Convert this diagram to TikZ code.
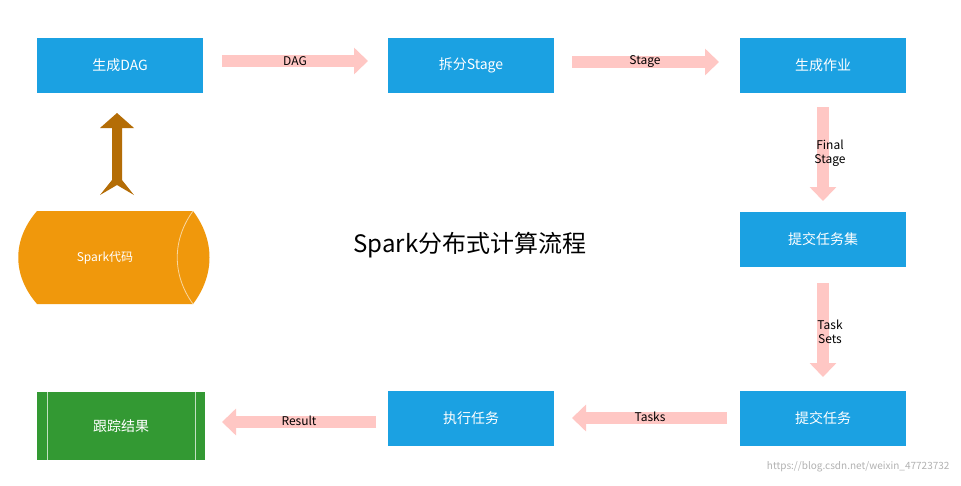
\documentclass[tikz,border=0pt]{standalone}
\usepackage{fontspec}
\setmainfont{Noto Sans CJK SC}
\usetikzlibrary{arrows.meta}
\definecolor{boxblue}{HTML}{1BA1E2}
\definecolor{pinkar}{HTML}{FFC7C4}
\definecolor{orng}{HTML}{F0980C}
\definecolor{brn}{HTML}{B46D06}
\definecolor{grn}{HTML}{339933}
\tikzset{
 bbox/.style={fill=boxblue,text=white,minimum width=166pt,minimum height=55pt,inner sep=0pt,font=\fontsize{14}{16}\selectfont},
 parr/.style={draw=pinkar,line width=12pt,-{Triangle[length=14pt,width=26pt]}},
 lbl/.style={font=\fontsize{12}{14}\selectfont,text=black,align=center}
}
\begin{document}
\begin{tikzpicture}[x=1pt,y=-1pt]
\useasboundingbox (0,0) rectangle (961,485);
\fill[white] (0,0) rectangle (961,485);
\node[bbox] (dag) at (120,65.5) {生成DAG};
\node[bbox] (stage) at (471,65.5) {拆分Stage};
\node[bbox] (job) at (823,65.5) {生成作业};
\node[bbox] (tset) at (823,239.5) {提交任务集};
\node[bbox] (task) at (823,418.5) {提交任务};
\node[bbox] (exec) at (471,418.5) {执行任务};
\node[fill=grn,text=white,minimum width=168pt,minimum height=68pt,inner sep=0pt,font=\fontsize{14}{16}\selectfont] (res) at (121,426) {跟踪结果};
\draw[white!70!grn,line width=0.8pt] (47,392)--(47,460) (195,392)--(195,460);
% cylinder
\fill[orng] (37,211) -- (193,211) .. controls (215,240) and (215,275) .. (193,304) -- (37,304) .. controls (12,275) and (12,240) .. (37,211) -- cycle;
\draw[white!60!orng,line width=0.8pt] (193,211) .. controls (172,240) and (172,275) .. (193,304);
\node[text=white,font=\fontsize{12}{14}\selectfont] (code) at (105,258) {Spark代码};
% brown arrow
\fill[brn] (117,113)--(134,128)--(122,128)--(122,180)--(134,195)--(117,185)--(100,195)--(112,180)--(112,128)--(100,128)--cycle;
% pink arrows
\coordinate (a1) at (222,61); \coordinate (a2) at (368,61);
\draw[parr] (a1)--(a2); \node[lbl] at (295,61) {DAG};
\coordinate (b1) at (572,62); \coordinate (b2) at (719,62);
\draw[parr] (b1)--(b2); \node[lbl] at (645,62) {Stage};
\coordinate (c1) at (823,107); \coordinate (c2) at (823,201);
\draw[parr] (c1)--(c2); \node[lbl] at (830,153) {Final\\Stage};
\coordinate (d1) at (823,283); \coordinate (d2) at (823,377);
\draw[parr] (d1)--(d2); \node[lbl] at (830,332) {Task\\Sets};
\coordinate (e1) at (727,418); \coordinate (e2) at (572,418);
\draw[parr] (e1)--(e2); \node[lbl] at (650,417) {Tasks};
\coordinate (f1) at (376,422); \coordinate (f2) at (222,422);
\draw[parr] (f1)--(f2); \node[lbl] at (299,421) {Result};
\node[font=\fontsize{24}{28}\selectfont] (title) at (470,245) {Spark分布式计算流程};
\node[text=gray!60,font=\fontsize{10}{12}\selectfont,anchor=east] (wm) at (953,467) {https://blog.csdn.net/weixin\_47723732};
\end{tikzpicture}
\end{document}
